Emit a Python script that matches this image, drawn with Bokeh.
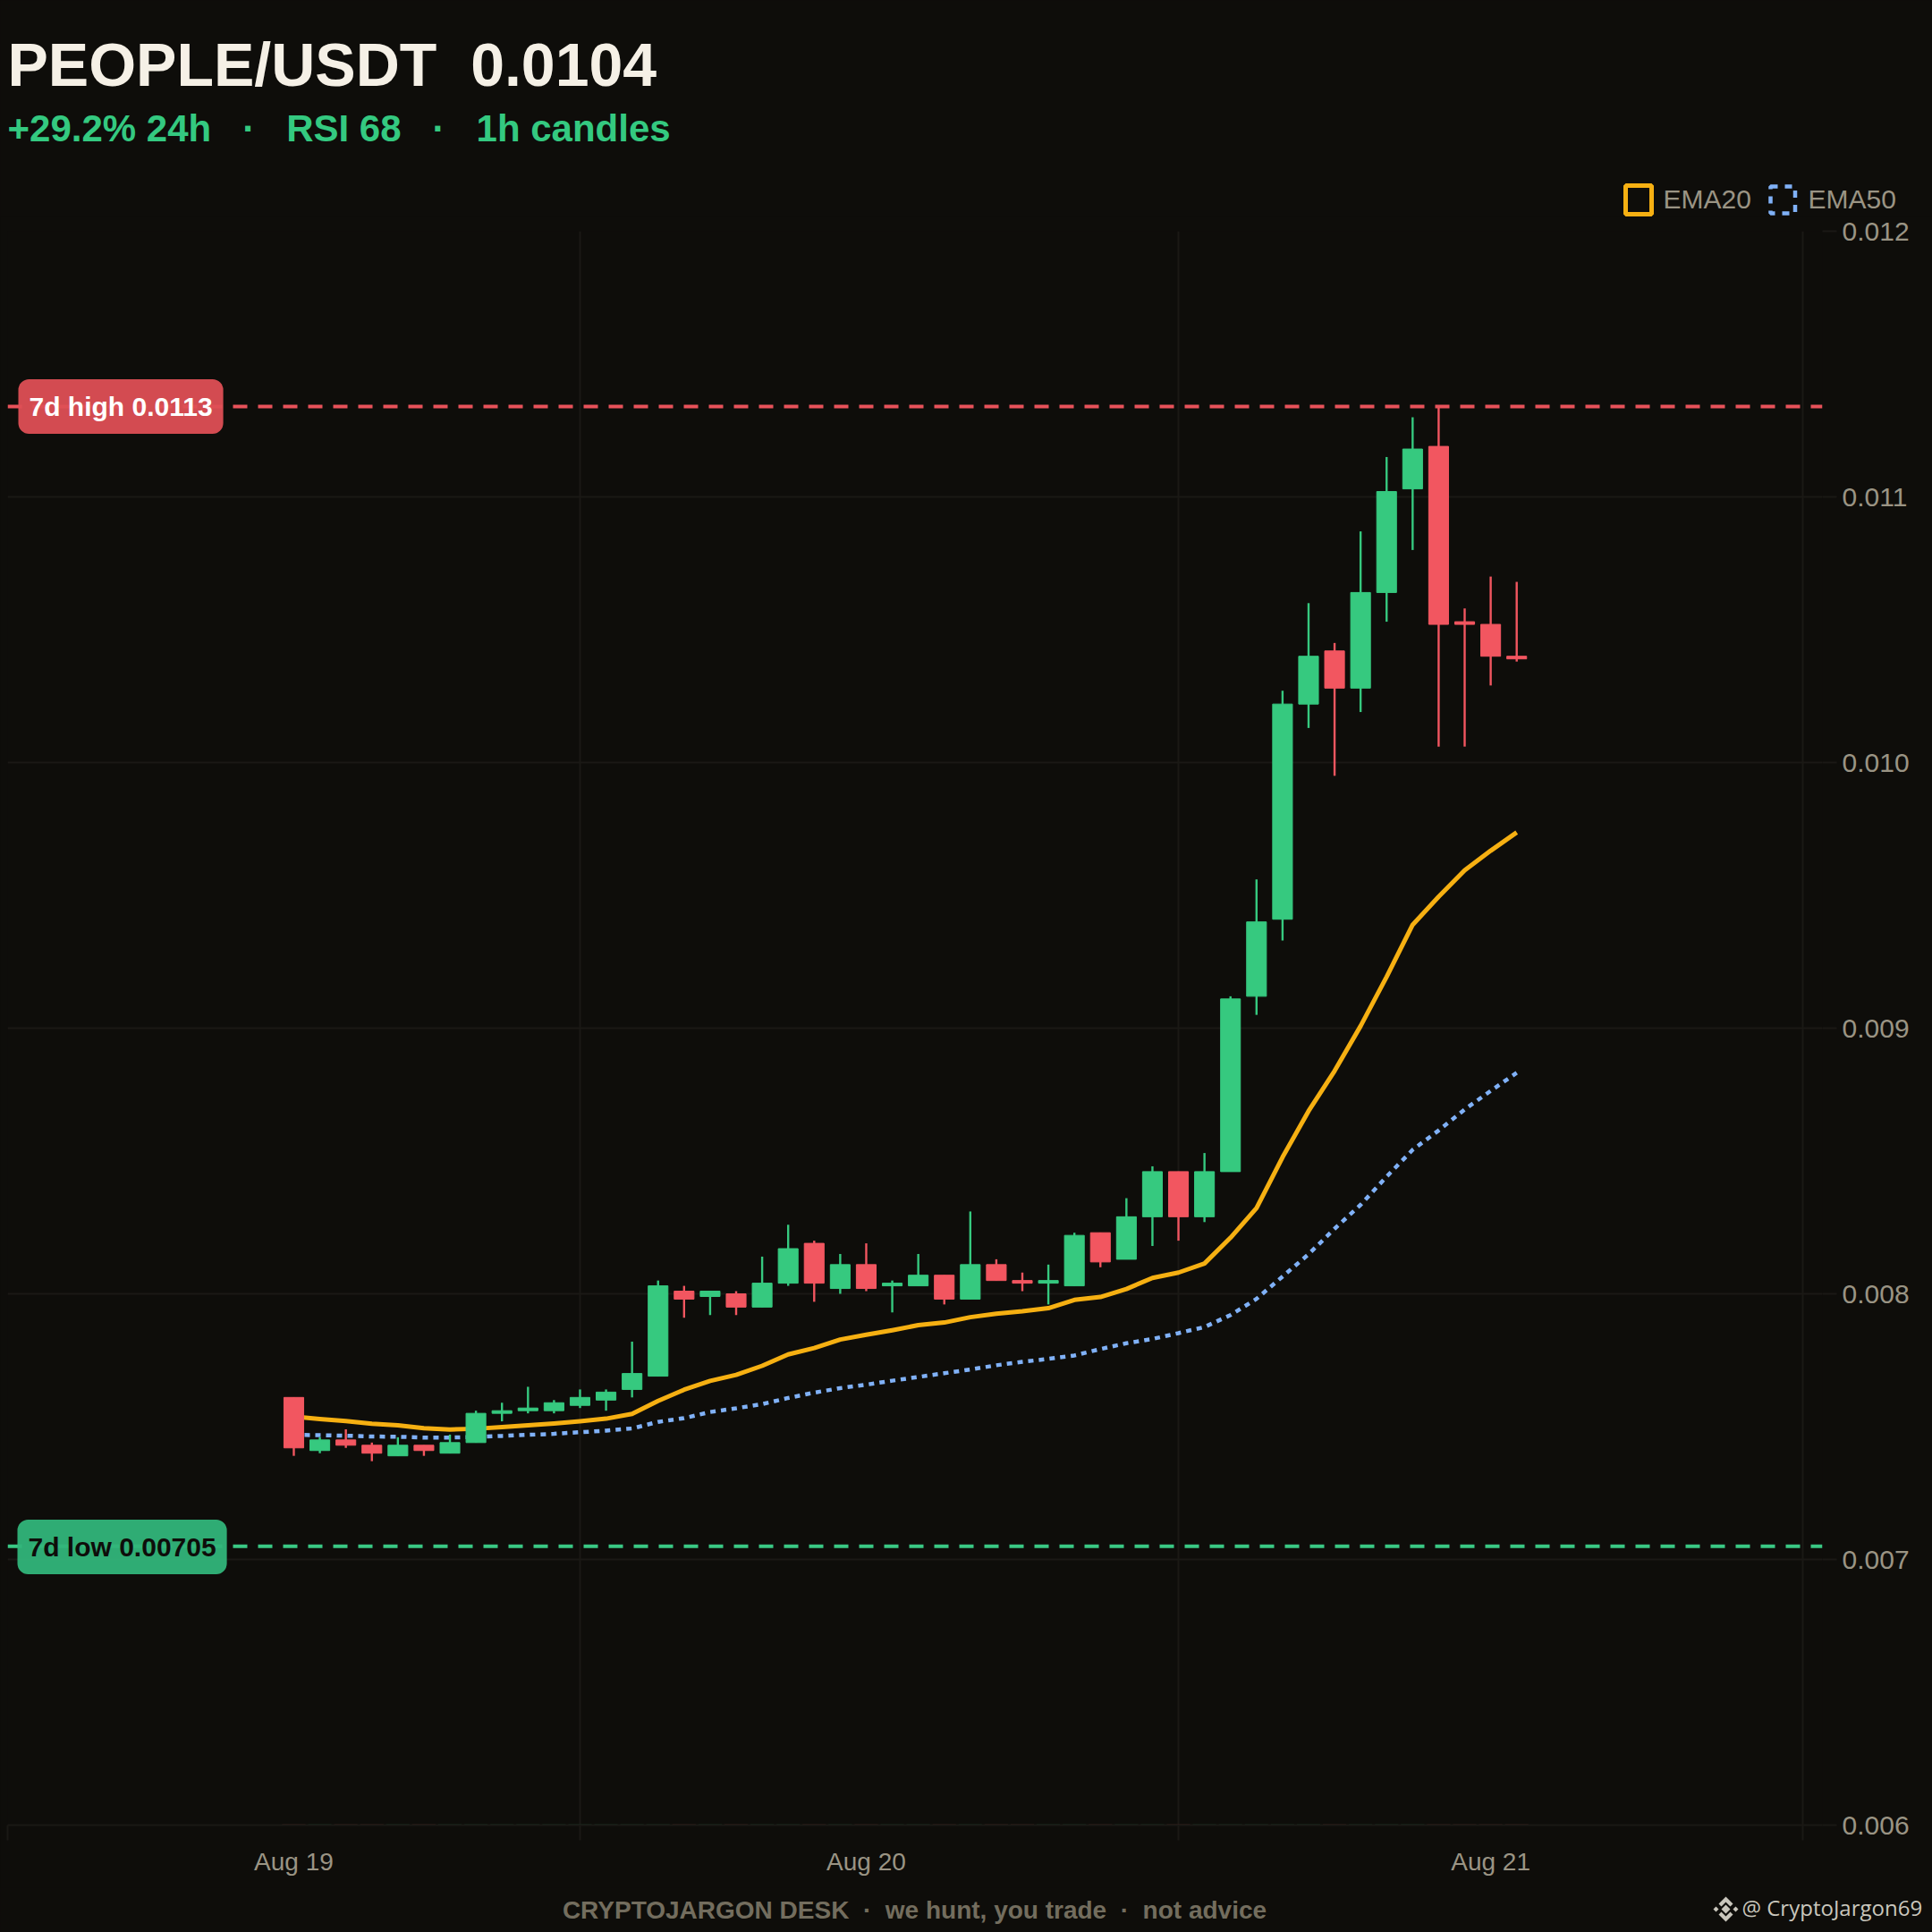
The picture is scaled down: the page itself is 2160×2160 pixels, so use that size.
from bokeh.plotting import figure
from bokeh.layouts import column
from bokeh.embed import file_html
from bokeh.resources import INLINE
from bokeh.core.properties import value
from bokeh.models import (Range1d, LinearAxis, FixedTicker, Grid, Label, Span, ColumnDataSource)

BG = "#0e0d0a"
GREEN = "#36c97f"
RED = "#f25660"
ORANGE = "#f6b012"
BLUE = "#80b1f7"
GRID = "#1a1915"
MUTED = "#9a9484"

# prices in units of 0.00001
open_ = [761,741,745,743,739,743,740,744,755,756,756,758,760,764,769,801,799,800,795,804,819,802,811,803,803,807,798,811,805,804,803,823,813,829,846,829,846,912,941,1022,1042,1028,1064,1103,1119,1053,1052,1040]
close = [742,745,743,740,743,741,744,755,756,757,759,761,763,770,803,798,801,795,804,817,804,811,802,804,807,798,811,805,804,805,822,812,829,846,829,846,911,940,1022,1040,1028,1064,1102,1118,1052,1052,1040,1039]
high = [761,746,749,744,746,743,747,756,759,765,760,764,764,782,805,803,801,801,814,826,820,815,819,805,815,807,831,813,808,811,823,823,836,848,846,853,912,956,1027,1060,1045,1087,1115,1130,1134,1058,1070,1068]
low = [739,740,742,737,739,739,740,744,752,755,755,757,756,761,769,791,792,792,795,803,797,800,801,793,803,796,798,805,801,796,803,810,813,818,820,827,846,905,933,1013,995,1019,1053,1080,1006,1006,1029,1038]
ema20 = [753.8,752.9,752.1,751.1,750.5,749.4,748.9,749.2,749.8,750.5,751.2,752,753,754.8,759.7,763.9,767.2,769.5,772.9,777.2,779.6,782.8,784.6,786.3,788.2,789.2,791.2,792.5,793.4,794.6,797.7,798.8,801.8,806,808,811.4,821.1,832.3,851.4,868.8,883.9,900.8,919.3,938.9,949.5,959.4,966.8,973.7]
ema50 = [746.9,746.8,746.6,746.3,746.2,745.9,745.9,746.1,746.5,746.9,747.3,747.9,748.5,749.3,751.8,753.2,755.5,756.9,758.5,760.8,762.8,764.5,765.8,767.3,768.7,770.1,771.5,773.1,774.4,775.5,776.8,779.2,781.4,783,785.2,787.5,792,798.1,806.5,814.9,824.5,833.5,844.1,854.2,861.5,869.4,876.4,883.2]
y_ticks = [0.006,0.007,0.008,0.009,0.010,0.011,0.012]
date_ticks = [0,22,46]
date_labels = ["Aug 19","Aug 20","Aug 21"]
grid_ticks = [-11,11,34,58]
HIGH_7D = 0.01134
LOW_7D = 0.00705
TITLE = "PEOPLE/USDT\u00a0\u00a00.0104"
SUBTITLE = "+29.2% 24h\u00a0\u00a0\u00a0·\u00a0\u00a0\u00a0RSI 68\u00a0\u00a0\u00a0·\u00a0\u00a0\u00a01h candles"
FOOTER = "CRYPTOJARGON DESK\u00a0\u00a0·\u00a0\u00a0we hunt, you trade\u00a0\u00a0·\u00a0\u00a0not advice"
HANDLE = "@ CryptoJargon69"

S = 1e-5
idx = list(range(len(open_)))
colors = [GREEN if c >= o else RED for o, c in zip(open_, close)]
src = ColumnDataSource(dict(
    x=idx, top=[max(o,c)*S for o,c in zip(open_,close)], bottom=[min(o,c)*S for o,c in zip(open_,close)],
    hi=[v*S for v in high], lo=[v*S for v in low], color=colors,
    x0=[i-0.45 for i in idx], x1=[i+0.45 for i in idx], base=[0.006]*len(idx)))

HEAD_H, FOOT_Y = 242, 2110

def strip(top, bottom):
    """A figure with no guides whose data coordinates are page pixels."""
    f = figure(width=2160, height=bottom-top, output_backend="svg", toolbar_location=None,
               x_range=Range1d(0, 2160), y_range=Range1d(bottom, top),
               background_fill_color=BG, border_fill_color=BG, outline_line_color=None,
               x_axis_location=None, y_axis_location=None, min_border=0, frame_align=False)
    f.grid.visible = False
    return f

def txt(f, x, y, text, size, color, font="Liberation Sans", style="normal", align="left"):
    f.text([x], [y], text=[text], text_font=value(font), text_font_size=value(f"{size}px"),
           text_color=color, text_font_style=style, text_align=align, text_baseline="alphabetic")

head = strip(0, HEAD_H)
txt(head, 8, 71, TITLE, 68, "#f5f0e6", style="bold")
txt(head, 8, 143, SUBTITLE, 42, "#34c980", style="bold")
txt(head, 1859, 222, "EMA20", 30, MUTED)
txt(head, 2021, 222, "EMA50", 30, MUTED)
head.quad(left=[1817], right=[1846], top=[207], bottom=[239], fill_alpha=0, line_color=ORANGE, line_width=5)
head.quad(left=[1979], right=[2006.5], top=[208], bottom=[238], fill_alpha=0, line_color=BLUE, line_width=4.5, line_dash="8 8")

p = figure(width=2160, height=FOOT_Y-HEAD_H, output_backend="svg", toolbar_location=None,
           x_range=Range1d(-11, 58.75), y_range=Range1d(0.006, 0.012),
           background_fill_color=BG, border_fill_color=BG, outline_line_color=None,
           x_axis_location=None, y_axis_location=None, frame_align=False,
           min_border_left=8, min_border_right=123, min_border_top=16, min_border_bottom=70,
           frame_width=2029, frame_height=1782)
p.grid.visible = False

xax = LinearAxis(ticker=FixedTicker(ticks=date_ticks, minor_ticks=grid_ticks),
                 major_label_overrides={t: l for t, l in zip(date_ticks, date_labels)})
xax.major_tick_out = 0; xax.major_tick_in = 0
xax.minor_tick_out = 17; xax.minor_tick_in = 0
xax.minor_tick_line_color = GRID; xax.minor_tick_line_width = 2
xax.axis_line_color = GRID; xax.axis_line_width = 2
xax.major_label_text_color = MUTED
xax.major_label_text_font = "Liberation Sans"
xax.major_label_text_font_size = "28px"
xax.major_label_standoff = 8
p.add_layout(xax, "below")

yax = LinearAxis(ticker=FixedTicker(ticks=y_ticks),
                 major_label_overrides={t: f"{t:.3f}" for t in y_ticks})
yax.major_tick_out = 16; yax.major_tick_in = 0
yax.major_tick_line_color = GRID; yax.major_tick_line_width = 2
yax.axis_line_color = None
yax.major_label_text_color = MUTED
yax.major_label_text_font = "Liberation Sans"
yax.major_label_text_font_size = "30px"
yax.major_label_standoff = 6
p.add_layout(yax, "right")

p.add_layout(Grid(dimension=0, ticker=FixedTicker(ticks=grid_ticks), grid_line_color=GRID, grid_line_width=2))
p.add_layout(Grid(dimension=1, ticker=FixedTicker(ticks=y_ticks), grid_line_color=GRID, grid_line_width=2))

# faint volume stubs on the baseline
p.segment("x0", "base", "x1", "base", source=src, line_color="color", line_alpha=0.25, line_width=2)

p.line(idx, [v*S for v in ema50], line_color=BLUE, line_width=4.5, line_dash="6 6")
p.line(idx, [v*S for v in ema20], line_color=ORANGE, line_width=5, line_join="round")

p.segment("x", "hi", "x", "lo", source=src, line_color="color", line_width=2.4)
p.vbar(x="x", top="top", bottom="bottom", width=0.76, source=src, fill_color="color", line_color="color", line_width=1)

p.add_layout(Span(location=HIGH_7D, dimension="width", line_color="#e8525a", line_width=4, line_dash="16 12"))
p.add_layout(Span(location=LOW_7D, dimension="width", line_color="#3ac884", line_width=4, line_dash="16 12"))

def pill(x, y, text, color, fill):
    p.add_layout(Label(x=x, y=y, x_units="canvas", y_units="canvas", text=text,
                       text_font="Liberation Sans", text_font_size="30px", text_color=color,
                       text_font_style="bold", text_baseline="middle",
                       background_fill_color=fill, background_fill_alpha=0.95,
                       border_radius=12, padding=(12, 14)))
pill(20, 454-HEAD_H, "7d high 0.0113", "#ffffff", "#de4f55")
pill(19, 1729-HEAD_H, "7d low 0.00705", BG, "#31b57a")

foot = strip(FOOT_Y, 2160)
txt(foot, 1022, 2135, FOOTER, 28, "#736d5e", style="bold", align="center")
txt(foot, 1947, 2132, HANDLE, 24, "#c9c6bc", font="Open Sans")

# exchange logo next to the handle
cx, cy = 1929, 2134
shapes = [
    [(0,-5),(5,0),(0,5),(-5,0)],
    [(-11,-3),(-8,0),(-11,3),(-14,0)],
    [(11,-3),(14,0),(11,3),(8,0)],
    [(0,-14),(8,-6),(5,-3),(0,-8),(-5,-3),(-8,-6)],
    [(0,14),(8,6),(5,3),(0,8),(-5,3),(-8,6)],
]
foot.patches([[cx+a for a, _ in s] for s in shapes], [[cy+b for _, b in s] for s in shapes],
             fill_color="#c9c6bc", line_color=None)

page = column(head, p, foot, spacing=0)
html = file_html(page, INLINE)
html = html.replace("</head>", f"<style>html,body{{background:{BG};}}</style></head>", 1)
open("out.html", "w").write(html)
